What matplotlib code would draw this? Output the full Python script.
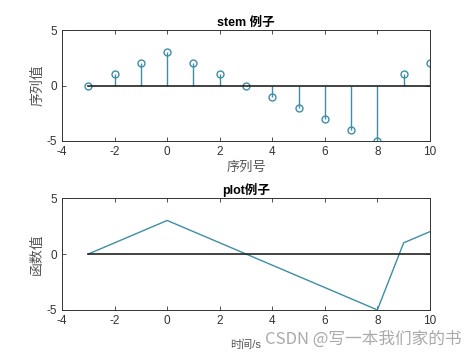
import matplotlib
matplotlib.use('Agg')
from matplotlib import pyplot as plt

plt.rcParams['font.family'] = ['Liberation Sans', 'Noto Sans CJK SC', 'DejaVu Sans']
plt.rcParams['axes.unicode_minus'] = False

n = [-3, -2, -1, 0, 1, 2, 3, 4, 5, 6, 7, 8, 9, 10]
x = [0, 1, 2, 3, 2, 1, 0, -1, -2, -3, -4, -5, 1, 2]
xticks = [-4, -2, 0, 2, 4, 6, 8, 10]
yticks = [-5, 0, 5]

c = '#3d8ea6'
fig = plt.figure(figsize=(4.74, 3.55), dpi=100)
ax1 = fig.add_axes([0.131, 0.603, 0.776, 0.312])
ax2 = fig.add_axes([0.131, 0.127, 0.776, 0.315])

ml, sl, bl = ax1.stem(n, x, basefmt='k-')
plt.setp(sl, color=c, linewidth=1)
plt.setp(ml, markerfacecolor='none', markeredgecolor=c, markersize=5, markeredgewidth=1)
plt.setp(bl, color='#222222', linewidth=1.2)
ax1.set_title('stem 例子', fontsize=9, fontweight='bold', pad=3)
ax1.set_ylabel('序列值', fontsize=10, color='#555555', labelpad=2)
ax1.set_xlabel('序列号', fontsize=9.5, color='#555555', labelpad=3)

ax2.plot(n, x, color=c, linewidth=1)
ax2.axhline(0, color='#222222', linewidth=1.2, xmin=0.07, xmax=1)
ax2.set_title('plot例子', fontsize=9, fontweight='bold', pad=3)
ax2.set_ylabel('函数值', fontsize=10, color='#555555', labelpad=2)
ax2.set_xlabel('时间/s', fontsize=8, color='#555555', labelpad=9)

for ax in (ax1, ax2):
    ax.set_xlim(-4, 10)
    ax.set_ylim(-5, 5)
    ax.set_xticks(xticks)
    ax.set_yticks(yticks)
    ax.tick_params(direction='in', top=True, right=True, labelsize=8.5,
                   colors='#333333', length=3, width=0.6)
    for s in ax.spines.values():
        s.set_linewidth(0.7)
        s.set_color('#333333')

fig.text(0.56, 0.032, 'CSDN @写一本我们家的书', fontsize=12, color='#aaaaaa',
         family=['Noto Sans CJK SC', 'DejaVu Sans'])

fig.savefig('out.png', dpi=100)
